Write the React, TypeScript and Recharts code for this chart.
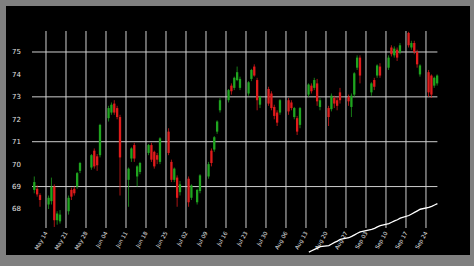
import React from 'react';
import { ComposedChart, Bar, Line, XAxis, YAxis, CartesianGrid } from 'recharts';

const YEAR = 2012;
const FIRST_MONDAY = '05-14';

// trading days, one line per week
const dates = [
  '05-09', '05-10', '05-11',
  '05-14', '05-15', '05-16', '05-17', '05-18',
  '05-21', '05-22', '05-23', '05-24', '05-25',
  '05-29', '05-30', '05-31', '06-01',
  '06-04', '06-05', '06-06', '06-07', '06-08',
  '06-11', '06-12', '06-13', '06-14', '06-15',
  '06-18', '06-19', '06-20', '06-21', '06-22',
  '06-25', '06-26', '06-27', '06-28', '06-29',
  '07-02', '07-03', '07-05', '07-06',
  '07-09', '07-10', '07-11', '07-12', '07-13',
  '07-16', '07-17', '07-18', '07-19', '07-20',
  '07-23', '07-24', '07-25', '07-26', '07-27',
  '07-30', '07-31', '08-01', '08-02', '08-03',
  '08-06', '08-07', '08-08', '08-09', '08-10',
  '08-13', '08-14', '08-15', '08-16', '08-17',
  '08-20', '08-21', '08-22', '08-23', '08-24',
  '08-27', '08-28', '08-29', '08-30', '08-31',
  '09-04', '09-05', '09-06', '09-07',
  '09-10', '09-11', '09-12', '09-13', '09-14',
  '09-17', '09-18', '09-19', '09-20', '09-21',
  '09-24', '09-25', '09-26', '09-27',
];

const opens = [
  68.85, 68.9, 68.62,
  68.2, 68.35, 69.0, 67.5, 67.45,
  67.9, 68.85, 68.9, 69.0, 69.7,
  69.85, 70.6, 70.35, 70.4,
  72.05, 72.3, 72.7, 72.5, 72.1,
  69.3, 70.25, 70.85, 69.45, 69.65,
  70.5, 70.85, 70.55, 70.4, 70.1,
  71.45, 70.1, 69.3, 69.4, 68.75,
  69.35, 68.5, 68.3, 68.8,
  69.45, 70.6, 70.65, 71.45, 72.4,
  72.85, 73.5, 73.4, 73.75, 73.4,
  73.15, 73.8, 74.35, 73.75, 72.65,
  73.35, 73.15, 72.55, 72.3, 72.3,
  72.85, 72.75, 72.1, 72.05, 71.75,
  73.1, 73.5, 73.4, 73.6, 72.55,
  72.5, 72.45, 72.95, 72.85, 73.2,
  73.0, 72.55, 73.1, 74.3, 74.75,
  73.2, 73.75, 73.95, 74.35,
  74.3, 75.2, 74.85, 75.1, 75.0,
  75.85, 75.2, 75.4, 75.0, 74.0,
  74.1, 73.95, 73.5, 73.6,
];

const highs = [
  69.45, 69.05, 68.7,
  68.6, 69.4, 69.1, 67.9, 67.95,
  68.6, 68.95, 69.0, 69.65, 70.1,
  70.45, 70.7, 70.45, 71.8,
  72.6, 72.75, 72.85, 72.6, 72.2,
  69.85, 70.75, 70.95, 69.95, 70.1,
  70.9, 70.95, 70.6, 70.5, 71.2,
  71.6, 70.2, 69.85, 69.5, 69.25,
  69.45, 69.1, 68.9, 69.55,
  70.1, 70.7, 71.25, 71.95, 72.95,
  73.35, 73.6, 73.9, 74.35, 73.9,
  73.7, 74.25, 74.45, 73.85, 73.05,
  73.45, 73.25, 72.65, 72.4, 72.9,
  72.95, 72.85, 72.55, 72.15, 72.55,
  73.6, 73.6, 73.85, 73.8, 72.95,
  72.6, 73.15, 73.05, 73.0, 73.4,
  73.1, 73.15, 74.1, 74.85, 74.85,
  73.65, 73.85, 74.45, 74.5,
  74.85, 75.3, 75.25, 75.2, 75.4,
  75.9, 75.5, 75.5, 75.1, 74.45,
  74.2, 74.0, 73.9, 74.0,
];

const lows = [
  68.7, 68.55, 68.1,
  68.0, 68.2, 67.2, 67.3, 67.35,
  67.75, 68.4, 68.6, 68.9, 69.6,
  69.75, 69.8, 69.7, 70.3,
  71.9, 72.2, 72.2, 72.0, 68.6,
  68.1, 70.1, 70.1, 69.0, 69.55,
  70.4, 70.1, 69.8, 70.0, 70.0,
  70.4, 69.2, 69.2, 68.1, 68.6,
  68.1, 68.4, 68.2, 68.7,
  69.35, 69.9, 70.55, 71.35, 72.3,
  72.75, 73.1, 73.3, 73.7, 73.3,
  73.05, 73.7, 73.9, 72.4, 72.5,
  72.6, 72.4, 72.0, 71.7, 72.2,
  72.2, 72.4, 72.0, 71.3, 71.6,
  73.0, 73.15, 73.3, 72.6, 72.4,
  71.7, 72.35, 72.5, 72.4, 72.7,
  72.6, 72.1, 73.0, 74.2, 73.6,
  73.05, 73.3, 73.85, 73.85,
  74.2, 74.8, 74.75, 74.6, 74.9,
  75.2, 75.1, 74.9, 74.3, 73.9,
  73.0, 72.95, 73.4, 73.5,
];

const closes = [
  69.2, 68.65, 68.4,
  68.5, 69.0, 67.5, 67.8, 67.75,
  68.5, 68.55, 68.7, 69.6, 70.05,
  70.4, 69.9, 69.95, 71.75,
  72.5, 72.65, 72.3, 72.1, 70.3,
  69.8, 70.7, 70.25, 69.9, 70.05,
  70.85, 70.2, 69.9, 70.2, 71.15,
  70.5, 69.3, 69.8, 68.5, 69.1,
  68.3, 69.05, 68.85, 69.5,
  70.0, 70.05, 71.2, 71.9, 72.85,
  73.3, 73.25, 73.85, 74.1, 73.8,
  73.65, 74.2, 73.95, 72.85, 73.0,
  72.7, 72.5, 72.15, 71.85, 72.85,
  72.35, 72.5, 72.5, 71.45, 72.5,
  73.55, 73.25, 73.75, 72.8, 72.85,
  72.1, 73.05, 72.7, 72.6, 72.85,
  72.8, 73.05, 74.05, 74.75, 73.95,
  73.6, 73.45, 74.4, 73.95,
  74.75, 74.9, 75.15, 74.75, 75.3,
  75.3, 75.4, 75.0, 74.45, 74.4,
  73.2, 73.1, 73.85, 73.95,
];

// white line drawn under the last weeks
const trendStart = '08-13';
const trendValues = [
  66.08, 66.14, 66.2, 66.26, 66.32,
  66.37, 66.44, 66.51, 66.57, 66.65,
  66.72, 66.78, 66.85, 66.92, 66.98,
  67.09, 67.14, 67.2, 67.26,
  67.35, 67.41, 67.47, 67.52, 67.59,
  67.71, 67.78, 67.85, 67.92, 67.99,
  68.07, 68.12, 68.18, 68.24,
];

const weekLabels = [
  'May 14', 'May 21', 'May 28', 'Jun 04', 'Jun 11', 'Jun 18', 'Jun 25',
  'Jul 02', 'Jul 09', 'Jul 16', 'Jul 23', 'Jul 30', 'Aug 06', 'Aug 13',
  'Aug 20', 'Aug 27', 'Sep 03', 'Sep 10', 'Sep 17', 'Sep 24',
];
const priceTicks = [68, 69, 70, 71, 72, 73, 74, 75];

const GREEN = '#1fa51f';
const RED = '#e11b1b';
const GRID = '#cfcfcf';
const LABEL = '#e4e4e4';

const X_DOMAIN: [number, number] = [-4.9, 137];
const Y_DOMAIN: [number, number] = [67.153, 75.936];
const W = 464;
const H = 249;
const MARGIN = { top: 25, right: 32.6, left: 0, bottom: 0 };

const dayIndex = (md: string) => {
  const [m, d] = md.split('-').map(Number);
  const [m0, d0] = FIRST_MONDAY.split('-').map(Number);
  return (Date.UTC(YEAR, m - 1, d) - Date.UTC(YEAR, m0 - 1, d0)) / 86400000;
};

const trendOffset = dates.indexOf(trendStart);

const data = dates.map((date, i) => ({
  // candles sit about a day right of the Monday gridline in the original
  x: dayIndex(date) + 1,
  open: opens[i],
  high: highs[i],
  low: lows[i],
  close: closes[i],
  range: [lows[i], highs[i]],
  trend: i >= trendOffset ? trendValues[i - trendOffset] : null,
}));

const weekTicks = weekLabels.map((_, i) => i * 7);

const Candle = (props: any) => {
  const { x, y, width, height, payload } = props;
  if (!payload) return null;
  const { open, high, low, close } = payload;
  const color = close >= open ? GREEN : RED;
  const top = Math.min(y, y + height);
  const span = Math.abs(height);
  const ratio = high - low ? span / (high - low) : 0;
  const yOf = (v: number) => top + (high - v) * ratio;
  const bodyTop = yOf(Math.max(open, close));
  const bodyBottom = yOf(Math.min(open, close));
  const cx = x + width / 2;
  return (
    <g>
      <line x1={cx} x2={cx} y1={top} y2={top + span} stroke={color} strokeWidth={1} strokeOpacity={0.75} />
      <rect x={x} y={bodyTop} width={width} height={Math.max(bodyBottom - bodyTop, 1)} fill={color} />
    </g>
  );
};

const WeekTick = ({ x, y, payload }: any) => (
  <text
    x={x}
    y={y}
    transform={`rotate(-60 ${x} ${y})`}
    textAnchor="end"
    dominantBaseline="central"
    fill={LABEL}
    fontSize={5.5}
    fontFamily="DejaVu Sans"
  >
    {weekLabels[Math.round(payload.value / 7)]}
  </text>
);

export default function App() {
  return (
    <div style={{ position: 'absolute', left: 0, top: 0, width: 474, height: 266, background: '#808080' }}>
      <div style={{ position: 'absolute', left: 6, top: 6, width: W, height: H, background: '#000' }}>
        <ComposedChart width={W} height={H} data={data} margin={MARGIN}>
          <CartesianGrid stroke={GRID} strokeWidth={1} syncWithTicks />
          <XAxis
            dataKey="x"
            type="number"
            domain={X_DOMAIN}
            ticks={weekTicks}
            interval={0}
            height={27}
            axisLine={false}
            tickLine={false}
            tickSize={0}
            tickMargin={4}
            tick={<WeekTick />}
          />
          <YAxis
            type="number"
            domain={Y_DOMAIN}
            ticks={priceTicks}
            width={26}
            axisLine={false}
            tickLine={false}
            tickSize={0}
            tickMargin={11}
            tick={{ fill: LABEL, fontSize: 7, fontFamily: 'DejaVu Sans' }}
          />
          <Bar dataKey="range" barSize={2.3} shape={<Candle />} isAnimationActive={false} />
        </ComposedChart>
      </div>
      {/* the white line runs below the price grid, so it gets its own taller plot */}
      <div style={{ position: 'absolute', left: 6, top: 6, width: W, height: H, pointerEvents: 'none' }}>
        <ComposedChart width={W} height={H} data={data} margin={{ ...MARGIN, left: 26 }}>
          <XAxis dataKey="x" type="number" domain={X_DOMAIN} hide />
          <YAxis type="number" domain={[65.95, 75.936]} hide />
          <Line
            dataKey="trend"
            stroke="#ffffff"
            strokeWidth={1.3}
            dot={false}
            isAnimationActive={false}
          />
        </ComposedChart>
      </div>
    </div>
  );
}
